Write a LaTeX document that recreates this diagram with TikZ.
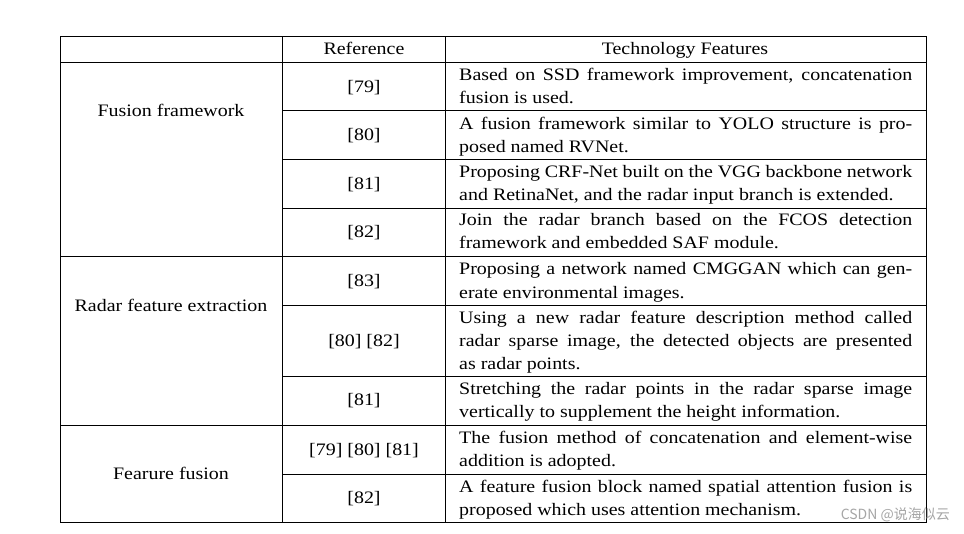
\documentclass[tikz,border=0pt]{standalone}
\usepackage{fontspec}
\usepackage{graphicx}
\setmainfont{Liberation Serif}
\newfontfamily\cjk{Noto Sans CJK SC}
\newcommand\SX[1]{\scalebox{1.14}[1]{#1}}
\newcommand\J[1]{\scalebox{1.14}[1]{\makebox[397.4pt][s]{#1}}}
\begin{document}
\begin{tikzpicture}[x=1pt,y=-1pt,
  txt/.style={anchor=base,inner sep=0pt,font=\fontsize{17.5}{23}\selectfont},
  ln/.style={anchor=base west,inner sep=0pt,font=\fontsize{17.5}{23}\selectfont},
  rule/.style={line width=0.8pt}]
\useasboundingbox (0,0) rectangle (964,533);
\fill[white] (0,0) rectangle (964,533);
% grid
\draw[rule] (60,36) rectangle (926,522);
\draw[rule] (282,36) -- (282,522);
\draw[rule] (445,36) -- (445,522);
\draw[rule] (60,62) -- (926,62);
\draw[rule] (60,256) -- (926,256);
\draw[rule] (60,425) -- (926,425);
\foreach \y in {110,159,208,305,376,474} \draw[rule] (282,\y) -- (926,\y);
% headers
\node[txt] (h2) at (364,54) {\SX{Reference}};
\node[txt] (h3) at (685,54) {\SX{Technology Features}};
% group labels
\node[txt] (g1) at (171,116) {\SX{Fusion framework}};
\node[txt] (g2) at (171,311) {\SX{Radar feature extraction}};
\node[txt] (g3) at (171,479) {\SX{Fearure fusion}};
% references
\node[txt] (r1) at (364,92) {\SX{[79]}};
\node[txt] (r2) at (364,140) {\SX{[80]}};
\node[txt] (r3) at (364,189) {\SX{[81]}};
\node[txt] (r4) at (364,237) {\SX{[82]}};
\node[txt] (r5) at (364,286) {\SX{[83]}};
\node[txt] (r6) at (364,346) {\SX{[80] [82]}};
\node[txt] (r7) at (364,405) {\SX{[81]}};
\node[txt] (r8) at (364,455) {\SX{[79] [80] [81]}};
\node[txt] (r9) at (364,503) {\SX{[82]}};
% features
\node[ln] (f1a) at (459,80) {\J{Based on SSD framework improvement, concatenation}};
\node[ln] (f1b) at (459,103) {\SX{fusion is used.}};
\node[ln] (f2a) at (459,129) {\J{A fusion framework similar to YOLO structure is pro-}};
\node[ln] (f2b) at (459,152) {\SX{posed named RVNet.}};
\node[ln] (f3a) at (459,177) {\J{Proposing CRF-Net built on the VGG backbone network}};
\node[ln] (f3b) at (459,200) {\SX{and RetinaNet, and the radar input branch is extended.}};
\node[ln] (f4a) at (459,225) {\J{Join the radar branch based on the FCOS detection}};
\node[ln] (f4b) at (459,248) {\SX{framework and embedded SAF module.}};
\node[ln] (f5a) at (459,274) {\J{Proposing a network named CMGGAN which can gen-}};
\node[ln] (f5b) at (459,298) {\SX{erate environmental images.}};
\node[ln] (f6a) at (459,323) {\J{Using a new radar feature description method called}};
\node[ln] (f6b) at (459,346) {\J{radar sparse image, the detected objects are presented}};
\node[ln] (f6c) at (459,369) {\SX{as radar points.}};
\node[ln] (f7a) at (459,394) {\J{Stretching the radar points in the radar sparse image}};
\node[ln] (f7b) at (459,417) {\SX{vertically to supplement the height information.}};
\node[ln] (f8a) at (459,443) {\J{The fusion method of concatenation and element-wise}};
\node[ln] (f8b) at (459,466) {\SX{addition is adopted.}};
\node[ln] (f9a) at (459,492) {\J{A feature fusion block named spatial attention fusion is}};
\node[ln] (f9b) at (459,515) {\SX{proposed which uses attention mechanism.}};
\node[anchor=east,inner sep=0pt,text=gray!70,font=\cjk\fontsize{14}{16}\selectfont] (wm) at (950,515) {CSDN @说海似云};
\end{tikzpicture}
\end{document}
